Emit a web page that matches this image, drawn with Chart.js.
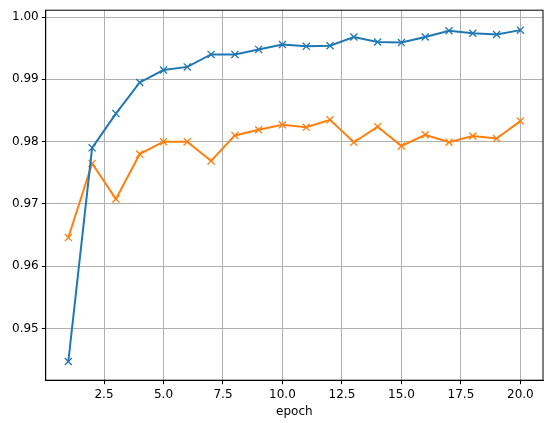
<!DOCTYPE html>
<html><head><script src="https://cdn.jsdelivr.net/npm/chart.js@4"></script>
<style>body{margin:0;background:#fff}#w{width:560px;height:423px}</style></head>
<body><div id="w"><canvas id="c"></canvas></div>
<script>
const epochs=[1,2,3,4,5,6,7,8,9,10,11,12,13,14,15,16,17,18,19,20];
const train=[0.9447,0.979,0.9845,0.9895,0.9915,0.992,0.994,0.994,0.9948,0.9956,0.9953,0.9954,0.9968,0.996,0.9959,0.9968,0.9978,0.9974,0.9972,0.9979];
const val=[0.9646,0.9765,0.9708,0.978,0.980,0.980,0.9769,0.981,0.9819,0.9827,0.9823,0.9835,0.9799,0.9824,0.9793,0.9811,0.9799,0.9809,0.9805,0.9833];
const xTicks=[2.5,5,7.5,10,12.5,15,17.5,20];
const yTicks=[0.95,0.96,0.97,0.98,0.99,1.00];
const mk=(d,c)=>({data:epochs.map((e,i)=>({x:e,y:d[i]})),borderColor:c,backgroundColor:c,borderWidth:2,pointStyle:'crossRot',pointRadius:5,pointBorderWidth:1.3,tension:0});
const box={id:'box',afterDraw(ch){const a=ch.chartArea,x=ch.ctx;x.save();x.strokeStyle='#000';x.lineWidth=1;x.strokeRect(a.left,a.top,a.right-a.left,a.bottom-a.top);x.restore();}};
new Chart(document.getElementById('c'),{type:'line',plugins:[box],
data:{datasets:[mk(train,'#1f77b4'),mk(val,'#ff7f0e')]},
options:{responsive:true,maintainAspectRatio:false,animation:false,
layout:{padding:{left:9,right:17,top:4,bottom:0}},
plugins:{legend:{display:false},tooltip:{enabled:false}},
scales:{
x:{type:'linear',min:0.05,max:20.95,afterBuildTicks:a=>{a.ticks=xTicks.map(v=>({value:v}))},
ticks:{color:'#000',font:{family:'DejaVu Sans',size:12},maxRotation:0,callback:v=>v.toFixed(1)},
grid:{color:'#b0b0b0',tickColor:'#000',tickLength:4},border:{color:'#000'},
title:{display:true,text:'epoch',color:'#000',font:{family:'DejaVu Sans',size:12},padding:{top:0}}},
y:{min:0.9417,max:1.0011,afterBuildTicks:a=>{a.ticks=yTicks.map(v=>({value:v}))},
ticks:{color:'#000',font:{family:'DejaVu Sans',size:12},callback:v=>v.toFixed(2)},
grid:{color:'#b0b0b0',tickColor:'#000',tickLength:4},border:{color:'#000'}}}}});
</script></body></html>
